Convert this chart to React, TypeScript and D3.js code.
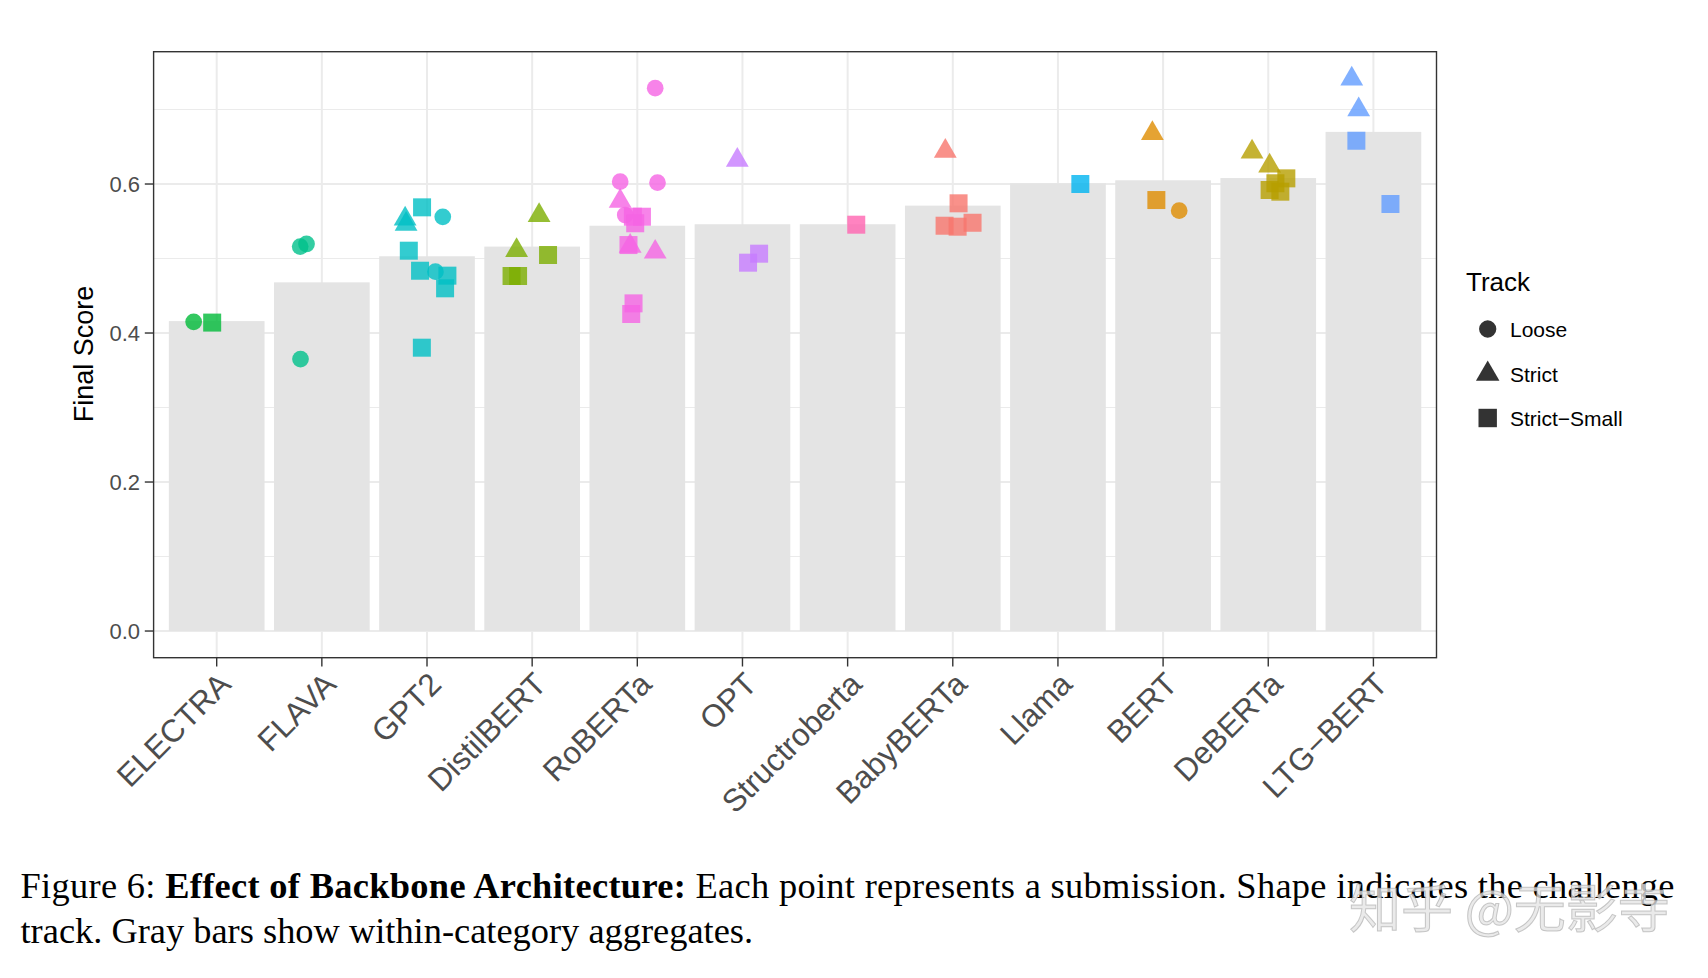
import React, { useRef, useEffect } from 'react';
import * as d3 from 'd3';

const W = 1708;
const H = 978;

const categories = [
  'ELECTRA', 'FLAVA', 'GPT2', 'DistilBERT', 'RoBERTa', 'OPT',
  'Structroberta', 'BabyBERTa', 'Llama', 'BERT', 'DeBERTa', 'LTG\u2212BERT',
];

// within-category aggregate (gray bars)
const barScores = [0.416, 0.468, 0.503, 0.516, 0.544, 0.546, 0.546, 0.571, 0.601, 0.605, 0.608, 0.670];

const tracks = ['Loose', 'Strict', 'Strict\u2212Small'];

// ggplot hue palette, assigned in alphabetical order of the models
const colorOrder = [
  'BabyBERTa', 'BERT', 'DeBERTa', 'DistilBERT', 'ELECTRA', 'FLAVA',
  'GPT2', 'Llama', 'LTG\u2212BERT', 'OPT', 'RoBERTa', 'Structroberta',
];
const hues = [
  '#F8766D', '#DE8C00', '#B79F00', '#7CAE00', '#00BA38', '#00C08B',
  '#00BFC4', '#00B4F0', '#619CFF', '#C77CFF', '#F564E3', '#FF64B0',
];

// [model, track, final score, jitter (in category units)]
const submissions: [string, string, number, number][] = [
  ['ELECTRA', 'Loose', 0.415, -0.219],
  ['ELECTRA', 'Strict\u2212Small', 0.414, -0.043],

  ['FLAVA', 'Loose', 0.516, -0.206],
  ['FLAVA', 'Loose', 0.5195, -0.146],
  ['FLAVA', 'Loose', 0.365, -0.203],

  ['GPT2', 'Strict', 0.553, -0.208],
  ['GPT2', 'Strict', 0.546, -0.199],
  ['GPT2', 'Strict\u2212Small', 0.5687, -0.047],
  ['GPT2', 'Loose', 0.556, 0.150],
  ['GPT2', 'Strict\u2212Small', 0.5105, -0.173],
  ['GPT2', 'Strict\u2212Small', 0.4836, -0.066],
  ['GPT2', 'Loose', 0.4823, 0.080],
  ['GPT2', 'Strict\u2212Small', 0.477, 0.194],
  ['GPT2', 'Strict\u2212Small', 0.46, 0.172],
  ['GPT2', 'Strict\u2212Small', 0.3803, -0.049],

  ['DistilBERT', 'Strict', 0.558, 0.066],
  ['DistilBERT', 'Strict', 0.511, -0.148],
  ['DistilBERT', 'Strict\u2212Small', 0.5047, 0.151],
  ['DistilBERT', 'Strict\u2212Small', 0.4765, -0.196],
  ['DistilBERT', 'Strict\u2212Small', 0.4765, -0.134],

  ['RoBERTa', 'Loose', 0.7286, 0.170],
  ['RoBERTa', 'Loose', 0.6031, -0.163],
  ['RoBERTa', 'Loose', 0.6018, 0.192],
  ['RoBERTa', 'Strict', 0.577, -0.163],
  ['RoBERTa', 'Loose', 0.5584, -0.115],
  ['RoBERTa', 'Strict\u2212Small', 0.5561, -0.042],
  ['RoBERTa', 'Strict\u2212Small', 0.5561, 0.044],
  ['RoBERTa', 'Strict\u2212Small', 0.5473, -0.020],
  ['RoBERTa', 'Strict\u2212Small', 0.5181, -0.084],
  ['RoBERTa', 'Strict', 0.5166, -0.068],
  ['RoBERTa', 'Strict', 0.5087, 0.170],
  ['RoBERTa', 'Strict\u2212Small', 0.4398, -0.036],
  ['RoBERTa', 'Strict\u2212Small', 0.4255, -0.058],

  ['OPT', 'Strict', 0.632, -0.049],
  ['OPT', 'Strict\u2212Small', 0.5065, 0.158],
  ['OPT', 'Strict\u2212Small', 0.4944, 0.053],

  ['Structroberta', 'Strict\u2212Small', 0.5454, 0.082],

  ['BabyBERTa', 'Strict', 0.644, -0.071],
  ['BabyBERTa', 'Strict\u2212Small', 0.5741, 0.055],
  ['BabyBERTa', 'Strict\u2212Small', 0.544, -0.078],
  ['BabyBERTa', 'Strict\u2212Small', 0.5427, 0.046],
  ['BabyBERTa', 'Strict\u2212Small', 0.548, 0.188],

  ['Llama', 'Strict\u2212Small', 0.600, 0.213],

  ['BERT', 'Strict', 0.668, -0.102],
  ['BERT', 'Strict\u2212Small', 0.5785, -0.064],
  ['BERT', 'Loose', 0.5642, 0.153],

  ['DeBERTa', 'Strict', 0.643, -0.154],
  ['DeBERTa', 'Strict', 0.6242, 0.013],
  ['DeBERTa', 'Strict\u2212Small', 0.6076, 0.172],
  ['DeBERTa', 'Strict\u2212Small', 0.601, 0.068],
  ['DeBERTa', 'Strict\u2212Small', 0.592, 0.013],
  ['DeBERTa', 'Strict\u2212Small', 0.5897, 0.115],

  ['LTG\u2212BERT', 'Strict', 0.741, -0.206],
  ['LTG\u2212BERT', 'Strict', 0.6998, -0.140],
  ['LTG\u2212BERT', 'Strict\u2212Small', 0.6581, -0.162],
  ['LTG\u2212BERT', 'Strict\u2212Small', 0.5732, 0.162],
];

const yTicks = [0, 0.2, 0.4, 0.6];
const yMinorTicks = [0.1, 0.3, 0.5, 0.7];

const SANS = '"Liberation Sans", Arial, Helvetica, sans-serif';
const SERIF = '"Liberation Serif", "Times New Roman", serif';

const Chart: React.FC = () => {
  const svgRef = useRef<SVGSVGElement>(null);

  useEffect(() => {
    if (!svgRef.current) return;
    const svg = d3.select(svgRef.current);
    svg.selectAll('*').remove();

    const panel = { left: 153.6, right: 1436.5, top: 51.7, bottom: 657.7 };

    // discrete axis with ggplot's 0.6 unit expansion on each side
    const x = d3.scaleLinear()
      .domain([-0.6, categories.length - 0.4])
      .range([panel.left, panel.right]);

    const y = d3.scaleLinear()
      .domain([-0.0358, 0.7776])
      .range([panel.bottom, panel.top]);

    const color = d3.scaleOrdinal<string, string>().domain(colorOrder).range(hues);
    const shape = d3.scaleOrdinal<string, d3.SymbolType>()
      .domain(tracks)
      .range([d3.symbolCircle, d3.symbolTriangle, d3.symbolSquare]);
    const shapeSize = d3.scaleOrdinal<string, number>().domain(tracks).range([220, 225, 324]);

    svg.append('rect').attr('width', W).attr('height', H).attr('fill', '#fff');

    const g = svg.append('g');

    // grid
    g.selectAll('line.minor')
      .data(yMinorTicks)
      .join('line')
      .attr('x1', panel.left).attr('x2', panel.right)
      .attr('y1', d => y(d)).attr('y2', d => y(d))
      .attr('stroke', '#EBEBEB').attr('stroke-width', 1.1);

    g.selectAll('line.major')
      .data(yTicks)
      .join('line')
      .attr('x1', panel.left).attr('x2', panel.right)
      .attr('y1', d => y(d)).attr('y2', d => y(d))
      .attr('stroke', '#EBEBEB').attr('stroke-width', 2);

    g.selectAll('line.vgrid')
      .data(categories)
      .join('line')
      .attr('x1', (_, i) => x(i)).attr('x2', (_, i) => x(i))
      .attr('y1', panel.top).attr('y2', panel.bottom)
      .attr('stroke', '#EBEBEB').attr('stroke-width', 2);

    // aggregate bars, 0.91 of a category wide
    const barHalf = 0.455;
    g.selectAll('rect.bar')
      .data(barScores)
      .join('rect')
      .attr('x', (_, i) => x(i - barHalf))
      .attr('width', x(barHalf) - x(-barHalf))
      .attr('y', d => y(d))
      .attr('height', d => y(0) - y(d))
      .attr('fill', '#E4E4E4');

    // submissions
    g.selectAll('path.pt')
      .data(submissions)
      .join('path')
      .attr('transform', d => `translate(${x(categories.indexOf(d[0]) + d[3])},${y(d[2])})`)
      .attr('d', d => d3.symbol().type(shape(d[1])).size(shapeSize(d[1]))() as string)
      .attr('fill', d => color(d[0]))
      .attr('fill-opacity', 0.8);

    // panel border
    g.append('rect')
      .attr('x', panel.left).attr('y', panel.top)
      .attr('width', panel.right - panel.left)
      .attr('height', panel.bottom - panel.top)
      .attr('fill', 'none')
      .attr('stroke', '#333333')
      .attr('stroke-width', 1.4);

    // y axis
    g.selectAll('line.ytick')
      .data(yTicks)
      .join('line')
      .attr('x1', panel.left - 8.8).attr('x2', panel.left)
      .attr('y1', d => y(d)).attr('y2', d => y(d))
      .attr('stroke', '#333333').attr('stroke-width', 1.4);

    g.selectAll('text.ylab')
      .data(yTicks)
      .join('text')
      .attr('x', panel.left - 13.5)
      .attr('y', d => y(d))
      .attr('dy', '0.36em')
      .attr('text-anchor', 'end')
      .attr('font-family', SANS)
      .attr('font-size', 22)
      .attr('fill', '#4D4D4D')
      .text(d => d.toFixed(1));

    g.append('text')
      .attr('transform', `translate(93,354) rotate(-90)`)
      .attr('text-anchor', 'middle')
      .attr('font-family', SANS)
      .attr('font-size', 27)
      .attr('fill', '#000')
      .text('Final Score');

    // x axis
    g.selectAll('line.xtick')
      .data(categories)
      .join('line')
      .attr('x1', (_, i) => x(i)).attr('x2', (_, i) => x(i))
      .attr('y1', panel.bottom).attr('y2', panel.bottom + 8.8)
      .attr('stroke', '#333333').attr('stroke-width', 1.4);

    // labels rotated 45deg, top-right corner pinned under the tick
    g.selectAll('text.xlab')
      .data(categories)
      .join('text')
      .attr('transform', (_, i) => `translate(${x(i)},670) rotate(-45)`)
      .attr('dy', '0.72em')
      .attr('text-anchor', 'end')
      .attr('font-family', SANS)
      .attr('font-size', 31.5)
      .attr('fill', '#4D4D4D')
      .text(d => d);

    // legend
    const legend = g.append('g');
    legend.append('text')
      .attr('x', 1466).attr('y', 290.5)
      .attr('font-family', SANS)
      .attr('font-size', 26)
      .attr('fill', '#000')
      .text('Track');

    const keyY = [329, 374, 418];
    tracks.forEach((t, i) => {
      legend.append('path')
        .attr('transform', `translate(1487.7,${keyY[i]})`)
        .attr('d', d3.symbol().type(shape(t)).size(shapeSize(t) + 15)() as string)
        .attr('fill', '#000')
        .attr('fill-opacity', 0.8);
      legend.append('text')
        .attr('x', 1510).attr('y', keyY[i])
        .attr('dy', '0.36em')
        .attr('font-family', SANS)
        .attr('font-size', 21)
        .attr('fill', '#000')
        .text(t);
    });

    // caption
    const cap1 = g.append('text')
      .attr('x', 20.5).attr('y', 898)
      .attr('font-family', SERIF)
      .attr('font-size', 36.4)
      .attr('fill', '#000')
      .attr('textLength', 1654)
      .attr('lengthAdjust', 'spacing');
    cap1.append('tspan').text('Figure 6: ');
    cap1.append('tspan').attr('font-weight', 'bold').text('Effect of Backbone Architecture:');
    cap1.append('tspan').text(' Each point represents a submission. Shape indicates the challenge');

    g.append('text')
      .attr('x', 20.5).attr('y', 943)
      .attr('font-family', SERIF)
      .attr('font-size', 36.4)
      .attr('fill', '#000')
      .text('track. Gray bars show within-category aggregates.');

    // site watermark
    g.append('text')
      .attr('x', 1349).attr('y', 928)
      .attr('font-family', '"Noto Sans CJK SC", sans-serif')
      .attr('font-size', 52)
      .attr('fill', '#e4e4e4')
      .attr('fill-opacity', 0.78)
      .attr('stroke', '#9a9a9a')
      .attr('stroke-opacity', 0.5)
      .attr('stroke-width', 1)
      .text('知乎 @无影寺');
  }, []);

  return (
    <svg
      ref={svgRef}
      width={W}
      height={H}
      style={{ position: 'absolute', left: 0, top: 0, display: 'block' }}
    />
  );
};

export default function App() {
  return <Chart />;
}
